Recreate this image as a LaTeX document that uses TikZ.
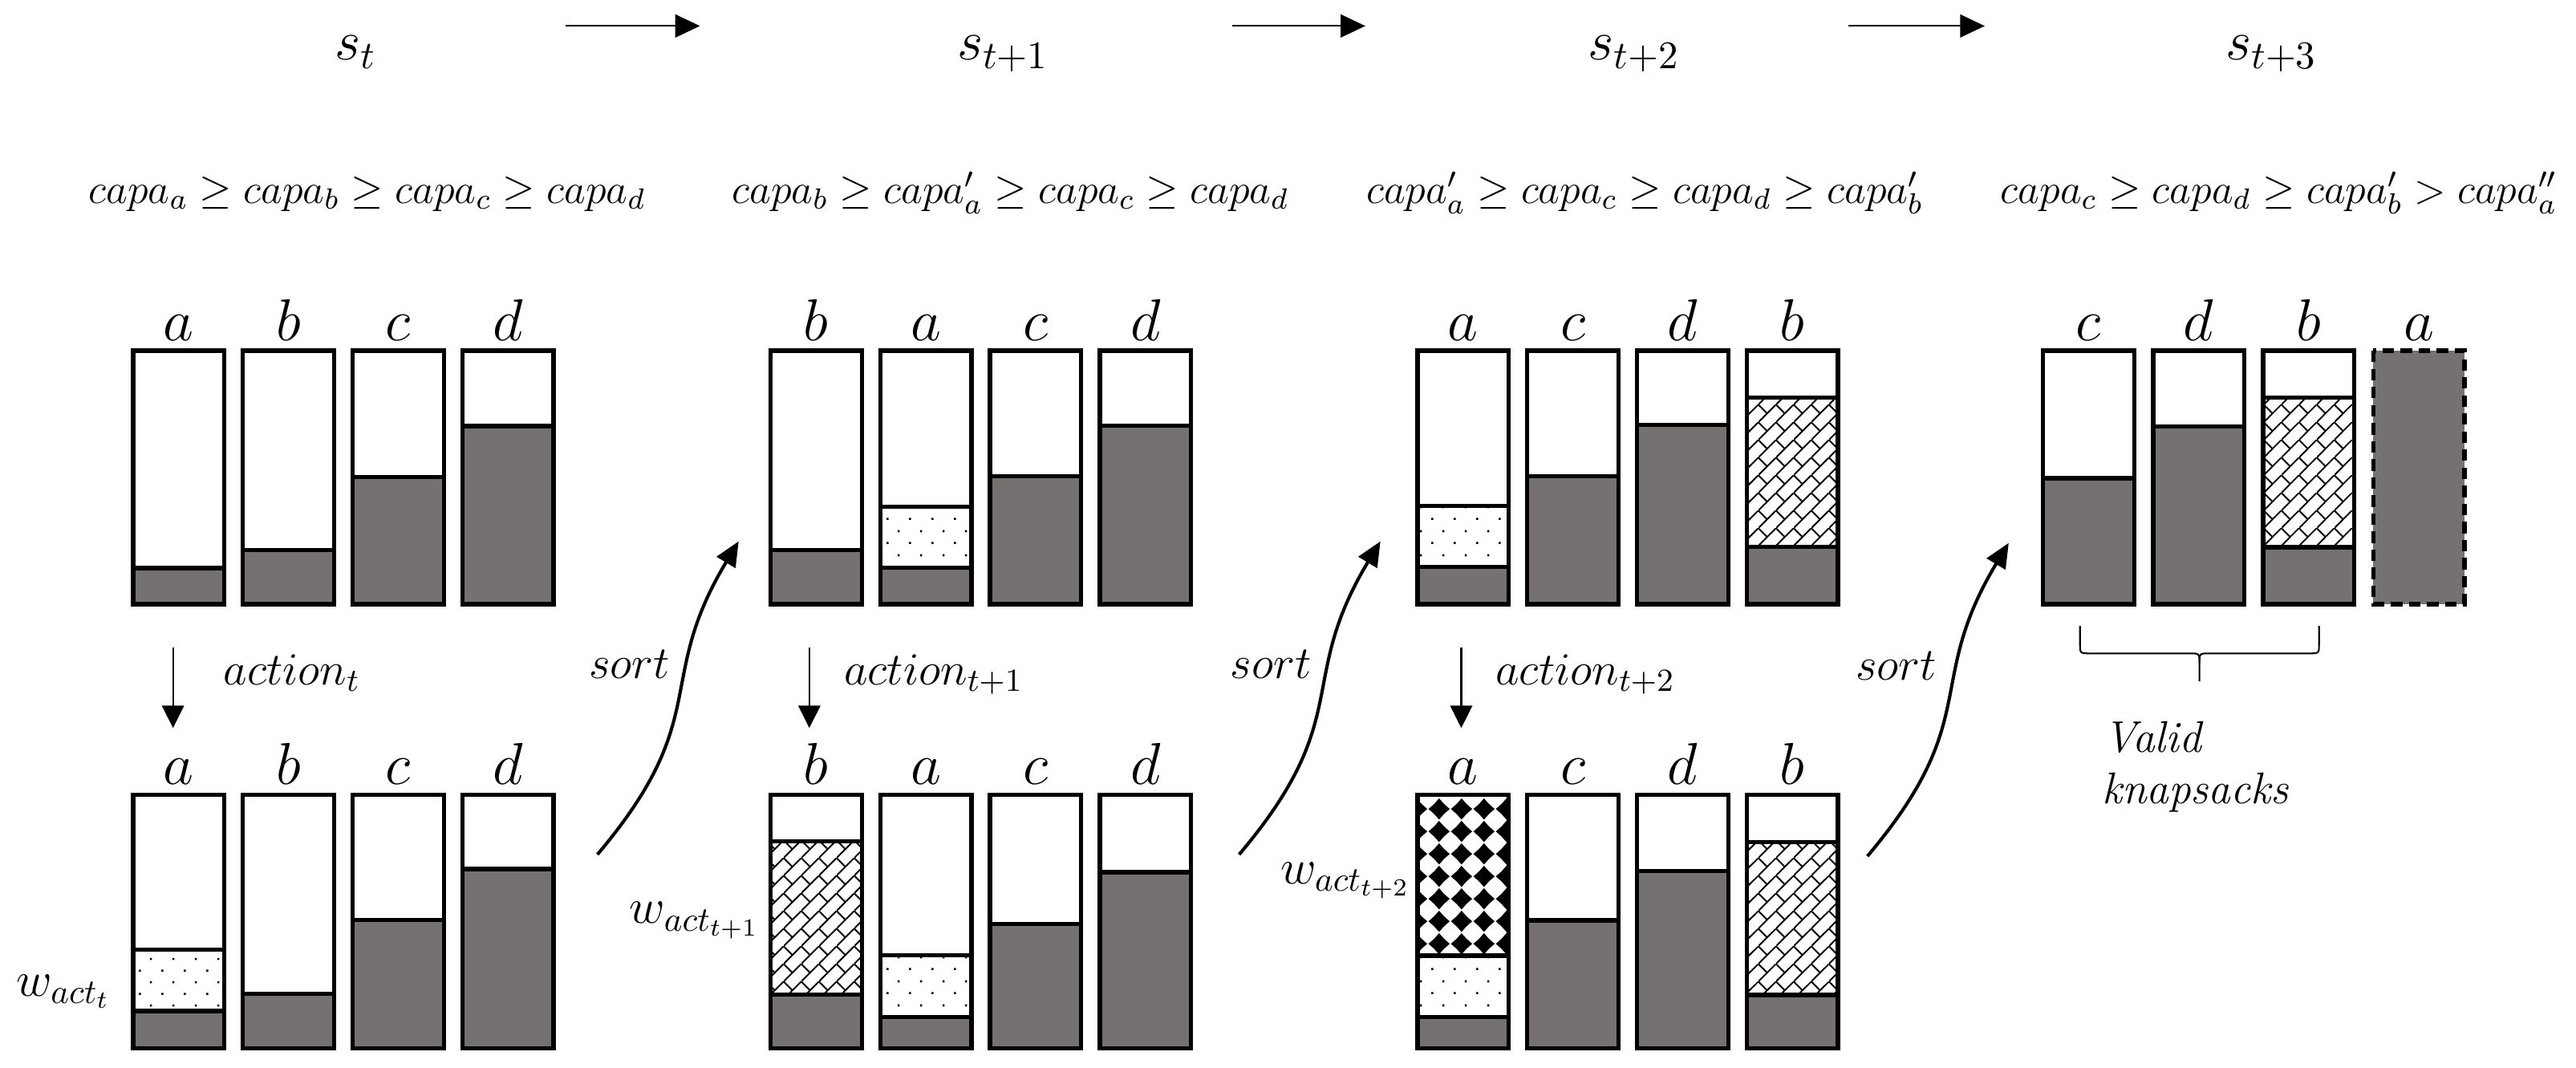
\documentclass[tikz,border=0pt]{standalone}
\usepackage{fix-cm}
\usetikzlibrary{arrows.meta,patterns.meta}
\definecolor{kg}{RGB}{118,113,113}

\tikzdeclarepattern{
  name=sdots,
  type=uncolored,
  bottom left={(0pt,0pt)},
  top right={(6.9pt,7.2pt)},
  tile size={(6.9pt,7.2pt)},
  code={
    \tikzset{x=1pt,y=1pt}
    \fill (1,1) rectangle (1.65,1.65);
    \fill (4.45,4.6) rectangle (5.1,5.25);
  }
}
\tikzdeclarepattern{
  name=brickdiag,
  type=uncolored,
  bottom left={(0pt,0pt)},
  top right={(5.3pt,5.3pt)},
  tile size={(5.3pt,5.3pt)},
  code={
    \tikzset{x=1pt,y=1pt}
    \draw[line width=0.45pt] (-1,-1) -- (6.3,6.3);
    \draw[line width=0.45pt] (2.65,2.65) -- (-0.6,5.9);
  }
}
\tikzdeclarepattern{
  name=diamgrid,
  type=uncolored,
  bottom left={(0pt,0pt)},
  top right={(6.9pt,6.9pt)},
  tile size={(6.9pt,6.9pt)},
  code={
    \tikzset{x=1pt,y=1pt}
    \fill (3.45,0.15) -- (5.0,1.9) -- (6.75,3.45) -- (5.0,5.0) -- (3.45,6.75)
          -- (1.9,5.0) -- (0.15,3.45) -- (1.9,1.9) -- cycle;
  }
}

\tikzset{
  kgray/.style={fill=kg, draw=black, line width=1.3pt},
  kdots/.style={pattern=sdots, draw=black, line width=1.3pt},
  khatch/.style={pattern=brickdiag, draw=black, line width=1.3pt},
  kdiam/.style={pattern=diamgrid, draw=black, line width=1.3pt},
  kframe/.style={draw=black, line width=1.3pt},
  kdashed/.style={fill=kg, draw=black, line width=1.3pt, dash pattern=on 3.5pt off 2pt},
  klabel/.style={anchor=base, inner sep=0pt, font=\fontsize{18}{20}\selectfont},
  ktitle/.style={anchor=base, inner sep=0pt, font=\fontsize{17}{20}\selectfont},
  kineq/.style={anchor=base, inner sep=0pt, font=\fontsize{12.7}{15}\selectfont},
  kop/.style={anchor=base west, inner sep=0pt, font=\fontsize{14}{16}\selectfont},
  kw/.style={anchor=base west, inner sep=0pt, font=\fontsize{15}{17}\selectfont},
  kvalid/.style={anchor=base west, inner sep=0pt, font=\fontsize{13.5}{16}\selectfont\itshape},
  toparrow/.style={line width=0.5pt, -{Triangle[length=7.5pt,width=7pt]}},
  actarrow/.style={line width=0.5pt, -{Triangle[length=6.8pt,width=6.7pt]}},
  sortarrow/.style={line width=1pt, -{Triangle[length=7.5pt,width=6.5pt]}},
  bracestyle/.style={line width=0.5pt},
}

\newcommand\kbw{55.5}
\newcommand\kbh{154.3}
\newcommand\kseg[5]{\path[#5] (#1,{#2+\kbh-#3}) rectangle ({#1+\kbw},{#2+\kbh-#4});}
\newcommand\kfrm[2]{\path[kframe] (#1,#2) rectangle ({#1+\kbw},{#2+\kbh});}
\newcommand\klab[4]{\node[klabel] (#4) at ({#1+\kbw/2},{#2-6}) {$#3$};}

\begin{document}
\begin{tikzpicture}[x=0.5pt,y=-0.5pt]
\useasboundingbox (0,0) rectangle (1567.9,649.9);

% ---------- titles ----------
\node[ktitle] (st0) at (216.5,36.6) {$s_t$};
\node[ktitle] (st1) at (610.5,36.6) {$s_{t+1}$};
\node[ktitle] (st2) at (994.5,36.6) {$s_{t+2}$};
\node[ktitle] (st3) at (1382.5,36.6) {$s_{t+3}$};
\coordinate (ta1s) at (344,15.8);  \coordinate (ta1e) at (426,15.8);
\coordinate (ta2s) at (750,15.8);  \coordinate (ta2e) at (831,15.8);
\coordinate (ta3s) at (1125,15.8); \coordinate (ta3e) at (1208,15.8);
\draw[toparrow] (ta1s) -- (ta1e);
\draw[toparrow] (ta2s) -- (ta2e);
\draw[toparrow] (ta3s) -- (ta3e);

% ---------- inequalities ----------
\node[kineq] (ineq0) at (223.5,123.6) {$capa_a \geq capa_b \geq capa_c \geq capa_d$};
\node[kineq] (ineq1) at (615,123.6) {$capa_b \geq capa'_a \geq capa_c \geq capa_d$};
\node[kineq] (ineq2) at (1001,123.6) {$capa'_a \geq capa_c \geq capa_d \geq capa'_b$};
\node[kineq] (ineq3) at (1387,123.6) {$capa_c \geq capa_d \geq capa'_b > capa''_a$};

% ---------- panel 1, top ----------
\kseg{81}{213.4}{0}{22}{kgray} \kfrm{81}{213.4} \klab{81}{213.4}{a}{t1a}
\kseg{147.8}{213.4}{0}{33}{kgray} \kfrm{147.8}{213.4} \klab{147.8}{213.4}{b}{t1b}
\kseg{214.6}{213.4}{0}{77.5}{kgray} \kfrm{214.6}{213.4} \klab{214.6}{213.4}{c}{t1c}
\kseg{281.4}{213.4}{0}{108.5}{kgray} \kfrm{281.4}{213.4} \klab{281.4}{213.4}{d}{t1d}

% ---------- panel 1, bottom ----------
\kseg{81}{483.5}{0}{22.5}{kgray} \kseg{81}{483.5}{22.5}{60}{kdots} \kfrm{81}{483.5} \klab{81}{483.5}{a}{b1a}
\kseg{147.8}{483.5}{0}{33}{kgray} \kfrm{147.8}{483.5} \klab{147.8}{483.5}{b}{b1b}
\kseg{214.6}{483.5}{0}{78}{kgray} \kfrm{214.6}{483.5} \klab{214.6}{483.5}{c}{b1c}
\kseg{281.4}{483.5}{0}{109}{kgray} \kfrm{281.4}{483.5} \klab{281.4}{483.5}{d}{b1d}

% ---------- panel 2, top ----------
\kseg{469}{213.4}{0}{33}{kgray} \kfrm{469}{213.4} \klab{469}{213.4}{b}{t2b}
\kseg{535.8}{213.4}{0}{22.4}{kgray} \kseg{535.8}{213.4}{22.4}{59.4}{kdots} \kfrm{535.8}{213.4} \klab{535.8}{213.4}{a}{t2a}
\kseg{602.6}{213.4}{0}{78}{kgray} \kfrm{602.6}{213.4} \klab{602.6}{213.4}{c}{t2c}
\kseg{669.4}{213.4}{0}{108.8}{kgray} \kfrm{669.4}{213.4} \klab{669.4}{213.4}{d}{t2d}

% ---------- panel 2, bottom ----------
\kseg{469}{483.5}{0}{32.7}{kgray} \kseg{469}{483.5}{32.7}{126}{khatch} \kfrm{469}{483.5} \klab{469}{483.5}{b}{b2b}
\kseg{535.8}{483.5}{0}{19}{kgray} \kseg{535.8}{483.5}{19}{56.6}{kdots} \kfrm{535.8}{483.5} \klab{535.8}{483.5}{a}{b2a}
\kseg{602.6}{483.5}{0}{75.6}{kgray} \kfrm{602.6}{483.5} \klab{602.6}{483.5}{c}{b2c}
\kseg{669.4}{483.5}{0}{107}{kgray} \kfrm{669.4}{483.5} \klab{669.4}{483.5}{d}{b2d}

% ---------- panel 3, top ----------
\kseg{862.8}{213.4}{0}{22.7}{kgray} \kseg{862.8}{213.4}{22.7}{59.7}{kdots} \kfrm{862.8}{213.4} \klab{862.8}{213.4}{a}{t3a}
\kseg{929.6}{213.4}{0}{78}{kgray} \kfrm{929.6}{213.4} \klab{929.6}{213.4}{c}{t3c}
\kseg{996.4}{213.4}{0}{109}{kgray} \kfrm{996.4}{213.4} \klab{996.4}{213.4}{d}{t3d}
\kseg{1063.2}{213.4}{0}{35}{kgray} \kseg{1063.2}{213.4}{35}{125.7}{khatch} \kfrm{1063.2}{213.4} \klab{1063.2}{213.4}{b}{t3b}

% ---------- panel 3, bottom ----------
\kseg{862.8}{483.5}{0}{19}{kgray} \kseg{862.8}{483.5}{19}{56.3}{kdots} \kseg{862.8}{483.5}{56.3}{154.3}{kdiam} \kfrm{862.8}{483.5} \klab{862.8}{483.5}{a}{b3a}
\kseg{929.6}{483.5}{0}{77.7}{kgray} \kfrm{929.6}{483.5} \klab{929.6}{483.5}{c}{b3c}
\kseg{996.4}{483.5}{0}{107.7}{kgray} \kfrm{996.4}{483.5} \klab{996.4}{483.5}{d}{b3d}
\kseg{1063.2}{483.5}{0}{32.4}{kgray} \kseg{1063.2}{483.5}{32.4}{125.4}{khatch} \kfrm{1063.2}{483.5} \klab{1063.2}{483.5}{b}{b3b}

% ---------- panel 4 ----------
\kseg{1243.5}{213.4}{0}{76.7}{kgray} \kfrm{1243.5}{213.4} \klab{1243.5}{213.4}{c}{t4c}
\kseg{1310.5}{213.4}{0}{108.2}{kgray} \kfrm{1310.5}{213.4} \klab{1310.5}{213.4}{d}{t4d}
\kseg{1377.5}{213.4}{0}{34.7}{kgray} \kseg{1377.5}{213.4}{34.7}{125.7}{khatch} \kfrm{1377.5}{213.4} \klab{1377.5}{213.4}{b}{t4b}
\path[kdashed] (1444.5,213.4) rectangle ({1444.5+\kbw},{213.4+\kbh});
\klab{1444.5}{213.4}{a}{t4a}

% ---------- action arrows ----------
\coordinate (a1s) at (105.3,394); \coordinate (a1e) at (105.3,443);
\coordinate (a2s) at (492.6,394); \coordinate (a2e) at (492.6,443);
\coordinate (a3s) at (889.4,394); \coordinate (a3e) at (889.4,443);
\draw[actarrow] (a1s) -- (a1e);
\draw[actarrow] (a2s) -- (a2e);
\draw[actarrow] (a3s) -- (a3e);
\node[kop] (act1) at (135.6,416.5) {$action_t$};
\node[kop] (act2) at (513.4,416.5) {$action_{t+1}$};
\node[kop] (act3) at (910,416.5) {$action_{t+2}$};

% ---------- sort arrows ----------
\coordinate (s1s) at (363.6,520);  \coordinate (s1e) at (449.6,329.4);
\coordinate (s2s) at (754.2,520);  \coordinate (s2e) at (840.2,329.4);
\coordinate (s3s) at (1136.6,521); \coordinate (s3e) at (1222.6,330.4);
\draw[sortarrow] (s1s) .. controls +(71,-84) and +(-51.9,86.1) .. (s1e);
\draw[sortarrow] (s2s) .. controls +(71,-84) and +(-51.9,86.1) .. (s2e);
\draw[sortarrow] (s3s) .. controls +(71,-84) and +(-51.9,86.1) .. (s3e);
\node[kop] (sort1) at (358,413) {$sort$};
\node[kop] (sort2) at (748.6,413) {$sort$};
\node[kop] (sort3) at (1129,414) {$sort$};

% ---------- weight labels ----------
\node[kw] (w1) at (9.6,606) {$w_{act_t}$};
\node[kw] (w2) at (382.9,562) {$w_{act_{t+1}}$};
\node[kw] (w3) at (779,537.6) {$w_{act_{t+2}}$};

% ---------- brace and caption ----------
\draw[bracestyle] (1266,380.9) -- (1266,391.6)
  .. controls (1266,397.6) .. (1272,397.6) -- (1332.7,397.6)
  .. controls (1338.7,397.6) .. (1338.7,403.6) -- (1338.7,414.6);
\draw[bracestyle] (1411.5,380.9) -- (1411.5,391.6)
  .. controls (1411.5,397.6) .. (1405.5,397.6) -- (1344.7,397.6)
  .. controls (1338.7,397.6) .. (1338.7,403.6);
\node[kvalid] (valid1) at (1280,458) {Valid};
\node[kvalid] (valid2) at (1279,489) {knapsacks};
\end{tikzpicture}
\end{document}
